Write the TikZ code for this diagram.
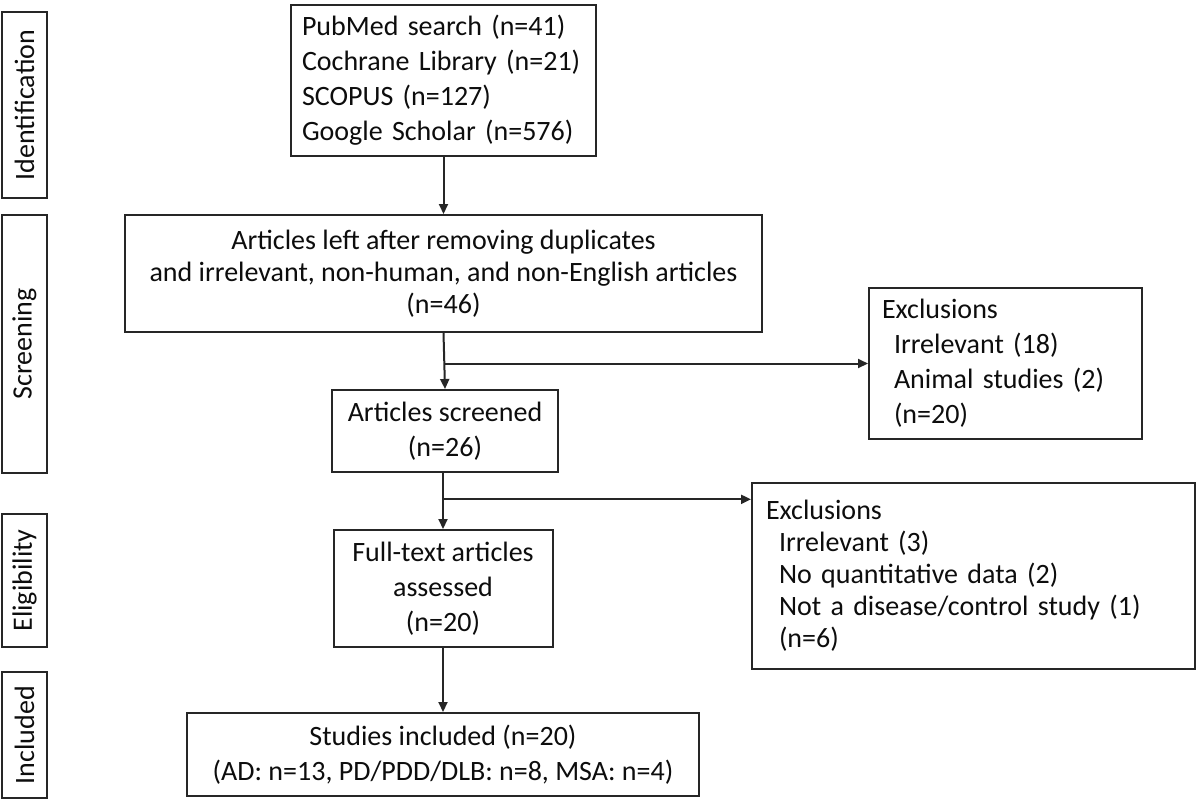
\documentclass[tikz,border=0pt]{standalone}
\usepackage{fontspec}
\setmainfont{Carlito}
\usetikzlibrary{arrows.meta, positioning, calc}

\begin{document}
\begin{tikzpicture}[x=0.5pt, y=-0.5pt,
    flowbox/.style={
        draw=black!85,
        line width=1pt,
        inner sep=0pt,
        text=black!95,
        font=\fontsize{14}{17.5}\selectfont
    },
    stagebox/.style={flowbox, rotate=90, minimum height=22.5pt},
    arr/.style={draw=black!85, line width=1pt, -{Triangle[length=5pt,width=4.5pt]}}
]
    \path[use as bounding box, fill=white] (0,0) rectangle (1200,799);

    % stages on the left
    \node[stagebox, minimum width=93pt] (ident) at (24.5,105) {Identification};
    \node[stagebox, minimum width=129pt] (screen) at (24.5,344) {Screening};
    \node[stagebox, minimum width=66.5pt] (elig) at (24.5,580.5) {Eligibility};
    \node[stagebox, minimum width=63pt] (incl) at (24.5,735) {Included};

    % main column
    \node[flowbox, minimum width=152.5pt, minimum height=75.5pt, text width=141.5pt, align=left] (search) at (443.5,80.5)
        {PubMed search (n=41)\\Cochrane Library (n=21)\\SCOPUS (n=127)\\Google Scholar (n=576)};
    \node[flowbox, minimum width=318.5pt, minimum height=58.5pt, align=center, font=\fontsize{14}{16}\selectfont] (dedup) at (443.5,273.5)
        {Articles left after removing duplicates\\and irrelevant, non-human, and non-English articles\\(n=46)};
    \node[flowbox, minimum width=113pt, minimum height=41pt, align=center] (screened) at (445,431)
        {Articles screened\\(n=26)};
    \node[flowbox, minimum width=109.5pt, minimum height=58.5pt, align=center] (fulltext) at (443,588.5)
        {Full-text articles\\assessed\\(n=20)};
    \node[flowbox, minimum width=256pt, minimum height=41.5pt, align=center] (studies) at (443,754.5)
        {Studies included (n=20)\\(AD: n=13, PD/PDD/DLB: n=8, MSA: n=4)};

    % exclusions
    \node[flowbox, minimum width=136.5pt, minimum height=75.5pt, text width=123.5pt, align=left] (excl1) at (1005.5,363.5)
        {Exclusions\\\hspace*{6pt}Irrelevant (18)\\\hspace*{6pt}Animal studies (2)\\\hspace*{6pt}(n=20)};
    \node[flowbox, minimum width=221.5pt, minimum height=93pt, text width=207.5pt, align=left, font=\fontsize{14}{16}\selectfont] (excl2) at (973.5,576)
        {Exclusions\\\hspace*{6.5pt}Irrelevant (3)\\\hspace*{6.5pt}No quantitative data (2)\\\hspace*{6.5pt}Not a disease/control study (1)\\\hspace*{6.5pt}(n=6)};

    % connectors
    \draw[arr] (search.south) -- (dedup.north);
    \draw[arr] (dedup.south -| search.south) -- (screened.north);
    \coordinate (split1) at (444,363.5);
    \draw[arr] (split1) -- (excl1.west);
    \draw[arr] (screened.south -| fulltext.north) -- (fulltext.north);
    \coordinate (split2) at ($(screened.south -| fulltext.north)!0.47!(fulltext.north)$);
    \draw[arr] (split2) -- (split2 -| excl2.west);
    \draw[arr] (fulltext.south) -- (studies.north);
\end{tikzpicture}
\end{document}
